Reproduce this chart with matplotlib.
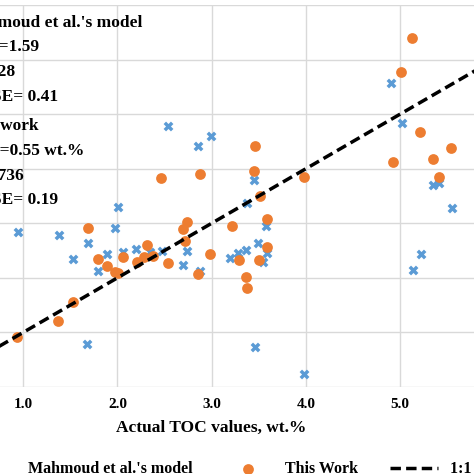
import matplotlib.pyplot as plt

plt.rcParams['font.family'] = ['Liberation Serif', 'DejaVu Serif']
plt.rcParams['font.weight'] = 'bold'

# ====================== data ======================
mah_x = [2.54, 2.85, 2.99, 2.01, 1.97, 0.95, 1.38, 4.90, 5.02, 3.45, 3.38, 3.58,
         5.35, 5.41, 5.55, 1.69, 1.53, 1.79, 1.89, 2.06, 2.20, 2.35, 2.47, 2.74,
         2.70, 2.88, 3.20, 3.28, 3.36, 3.49, 3.54, 3.59, 1.68, 3.46, 3.98, 5.14, 5.22]
mah_y = [4.78, 4.41, 4.60, 3.30, 2.91, 2.84, 2.78, 5.57, 4.84, 3.79, 3.37, 2.95,
         3.70, 3.74, 3.28, 2.64, 2.34, 2.12, 2.44, 2.47, 2.53, 2.47, 2.49, 2.49,
         2.23, 2.12, 2.36, 2.45, 2.51, 2.64, 2.29, 2.45, 0.79, 0.73, 0.24, 2.14, 2.44]

work_x = [2.46, 2.88, 1.69, 2.74, 2.70, 3.22, 5.13, 5.01, 3.46, 3.45, 3.51, 3.59,
          3.98, 5.21, 4.92, 5.35, 5.54, 5.41, 2.72, 2.31, 1.79, 1.89, 1.97, 2.01,
          2.06, 2.21, 2.28, 2.38, 2.54, 2.98, 2.85, 3.29, 3.36, 3.38, 3.50, 3.59,
          1.53, 1.37, 0.94]
work_y = [3.83, 3.90, 2.91, 3.02, 2.89, 2.95, 6.39, 5.77, 4.41, 3.96, 3.50, 3.08,
          3.85, 4.67, 4.12, 4.18, 4.38, 3.85, 2.67, 2.60, 2.34, 2.22, 2.11, 2.09,
          2.38, 2.29, 2.38, 2.40, 2.27, 2.44, 2.07, 2.33, 2.01, 1.81, 2.33, 2.56,
          1.56, 1.21, 0.92]

line_x = [0, 7]
x_ticks = [1.0, 2.0, 3.0, 4.0, 5.0]

mah_text = "Mahmoud et al.'s model\nAAE=1.59\nR=0.28\nRMSE= 0.41"
work_text = "This work\nAAE=0.55 wt.%\nR=0.736\nRMSE= 0.19"

# ====================== plot ======================
fig = plt.figure(figsize=(4.74, 4.74), dpi=100)
ax = fig.add_axes([-0.150, 0.1835, 1.193, 0.806])

ax.scatter(mah_x, mah_y, marker='X', s=50, color='#5B9BD5', linewidths=0,
           label="Mahmoud et al.'s model", zorder=3)
ax.scatter(work_x, work_y, marker='o', s=60, color='#ED7D31', linewidths=0,
           label='This Work', zorder=3)
ax.plot(line_x, line_x, 'k--', lw=2.5, dashes=(3, 1.5), label='1:1 Line', zorder=4)

ax.set_xlim(0, 6)
ax.set_ylim(0, 7)
ax.set_xticks(x_ticks)
ax.set_xticklabels([f'{t:.1f}' for t in x_ticks])
ax.set_yticks(range(0, 8))
ax.tick_params(length=0, labelsize=11, pad=8)
ax.grid(True, color='#d9d9d9', lw=1)
for s in ax.spines.values():
    s.set_visible(False)
ax.set_xlabel('Actual TOC values, wt.%', fontsize=12.5, fontweight='bold', labelpad=6)

ax.text(0.36, 6.82, mah_text, fontsize=12.5, fontweight='bold', va='top',
        linespacing=1.72, clip_on=False)
ax.text(0.36, 4.92, work_text, fontsize=12.5, fontweight='bold', va='top',
        linespacing=1.72, clip_on=False)

fig.legend(loc='center', bbox_to_anchor=(0.5, 0.01), ncol=3, frameon=False,
           fontsize=11.5, handlelength=3, columnspacing=2.0)

fig.savefig('out.png', dpi=100)
